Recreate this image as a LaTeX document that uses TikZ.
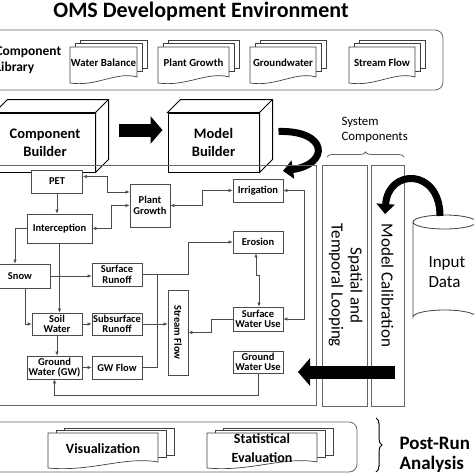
\documentclass[tikz,border=0pt]{standalone}
\usepackage{fontspec}
\setmainfont{Carlito}
\usetikzlibrary{arrows.meta,calc,decorations.pathreplacing}

\tikzset{
  >={Latex[length=4pt,width=3.5pt]},
  frame/.style={draw=black!60, line width=0.8pt},
  box/.style={draw=black!70, fill=white, line width=0.8pt, align=center, inner sep=0pt,
    font=\fontsize{10.5}{10.5}\selectfont\bfseries},
  link/.style={draw=black!70, line width=0.6pt},
  doc/.style={draw=black!75, fill=white, line width=0.7pt},
  doctext/.style={font=\fontsize{10.8}{12}\selectfont\bfseries, align=center},
  block/.style={draw=black, fill=white, line width=1pt, align=center,
    font=\fontsize{14.5}{18}\selectfont\bfseries},
  blockarrow/.style={draw=black, line width=13pt, -{Triangle[width=27pt,length=12pt]}},
  bendarrow/.style={draw=black, line width=7pt, -{Triangle[width=18pt,length=10pt]}},
  column/.style={draw=black!60, line width=0.8pt, align=center,
    font=\fontsize{17}{19}\selectfont},
}

% stacked documents: name, x1, y1, x2, y2, dx, dy, text
\newcommand{\docstack}[8]{%
  \foreach \k in {2,1}{
    \draw[doc] ({#2+#6*\k},{#3-#7*\k}) rectangle ({#4+#6*\k},{#5-#7*\k-8});
  }
  \draw[doc] (#2,#3) -- (#4,#3) -- (#4,{#5-6})
    .. controls ({#4-0.3*(#4-#2)},{#5-12}) and ({#2+0.4*(#4-#2)},{#5+4}) .. (#2,#5) -- cycle;
  \node[doctext] (#1) at ({(#2+#4)/2},{(#3+#5)/2-2}) {#8};
}

% top and side faces of a block node
\newcommand{\cubeside}[1]{%
  \draw[draw=black, line width=1pt, fill=white] (#1.north west) -- ++(13,-13) -- ($(#1.north east)+(13,-13)$)
    -- ($(#1.south east)+(13,-13)$) -- (#1.south east) -- (#1.north east) -- cycle;
  \draw[draw=black, line width=1pt] (#1.north east) -- ++(13,-13);
}

\begin{document}
\begin{tikzpicture}[x=1pt,y=-1pt]
\useasboundingbox (0,0) rectangle (474,474);
\clip (0,0) rectangle (474,474);

\node[font=\fontsize{22}{24}\selectfont\bfseries] (title) at (201,12) {OMS Development Environment};

% component library
\draw[frame, rounded corners=8pt] (-10,30) rectangle (443,90);
\node[anchor=west, align=left, font=\fontsize{13.5}{16}\selectfont\bfseries] (lib) at (-8,60) {Component\\Library};
\docstack{wbal}{70}{47}{137}{83}{5}{3.5}{Water Balance}
\docstack{pgro}{158}{47}{229}{83}{5}{3.5}{Plant Growth}
\docstack{gwat}{250}{47}{316}{83}{5}{3.5}{Groundwater}
\docstack{sflo}{349}{47}{415}{83}{5}{3.5}{Stream Flow}

% builders
\node[block, minimum width=100pt, minimum height=59pt] (cb) at (45,142.5) {Component\\Builder};
\cubeside{cb}
\node[block, minimum width=91pt, minimum height=59pt] (mb) at (213.5,142.5) {Model\\Builder};
\cubeside{mb}
\draw[blockarrow] ($(cb.east)+(23,-12.5)$) -- ($(mb.west)+(-5,-12.5)$);
\draw[bendarrow] ($(mb.east)+(19,-11)$) .. controls (328,130) and (330,164) .. (283,171);

% model frame
\draw[frame] (-10,165) rectangle (316,405);

\node[box, minimum width=51pt, minimum height=23pt] (pet) at (57,181.5) {PET};
\node[box, minimum width=40pt, minimum height=43pt] (pg) at (150,205.5) {Plant\\Growth};
\node[box, minimum width=50pt, minimum height=23pt] (irr) at (258,190.5) {Irrigation};
\node[box, minimum width=65pt, minimum height=29pt] (int) at (59.5,228.5) {Interception};
\node[box, minimum width=50pt, minimum height=22pt] (ero) at (258,242) {Erosion};
\node[box, minimum width=60pt, minimum height=24pt] (snow) at (20,276) {Snow};
\node[box, minimum width=50pt, minimum height=23pt] (sr) at (117,274.5) {Surface\\Runoff};
\node[box, minimum width=20pt, minimum height=85pt] (sf) at (178,332.5) {\rotatebox{-90}{Stream Flow}};
\node[box, minimum width=50pt, minimum height=22pt] (soil) at (57,324) {Soil\\Water};
\node[box, minimum width=50pt, minimum height=22pt] (ssr) at (117,324) {Subsurface\\Runoff};
\node[box, minimum width=50pt, minimum height=24pt] (swu) at (258,319) {Surface\\Water Use};
\node[box, minimum width=55pt, minimum height=23pt] (gw) at (54.5,367.5) {Ground\\Water (GW)};
\node[box, minimum width=50pt, minimum height=23pt] (gwf) at (117,367.5) {GW Flow};
\node[box, minimum width=50pt, minimum height=22pt] (gwu) at (258,362) {Ground\\Water Use};

\draw[link,<->] ($(pet.east)+(0,-5)$) -- ++(24,0) |- ($(pg.west)+(0,-13.5)$);
\draw[link,<->] (int.east) -- ++(19,0) |- (pg.west);
\draw[link,<->] (pg.east) -- ++(32,0) |- (irr.west);
\draw[link,->] (pet.south) -- (pet.south |- int.north);
\draw[link,->] (int.west) -| ([xshift=-5pt]snow.north);
\draw[link,->] (int.south) -- (int.south |- soil.north);
\draw[link,->] (snow.east) -- (snow.east -| sr.west);
\draw[link,->] ([xshift=5pt]snow.south) |- (soil.west);
\draw[link,->] (sr.east) -- ++(46,0) |- (ero.west);
\draw[link] (gwf.east) -| ($(sr.east)+(15,0)$);
\draw[link,->] (soil.east) -- (ssr.west);
\draw[link,->] (ssr.east) -- (ssr.east -| sf.west);
\draw[link,->] (soil.south) -- (soil.south |- gw.north);
\draw[link,->] (gw.east) -- (gw.east -| gwf.west);
\draw[link,->] (swu.west) -- ++(-21,0) |- (sf.east);
\draw[link,<->] ([xshift=-2pt]ero.south) -- ++(0,22) -| ([xshift=1pt]swu.north);
\draw[link,<->] (irr.east) -- ++(21,0) |- (swu.east);
\draw[link,->] (gwu.south) -- ++(0,22) -| (gw.south);

% system components
\node[column, minimum width=36pt, minimum height=241pt] (loop) at (345,285.5)
  {\rotatebox{-90}{\begin{tabular}{@{}c@{}}Spatial and\\Temporal Looping\end{tabular}}};
\node[column, minimum width=33pt, minimum height=241pt] (calib) at (387.5,285.5)
  {\rotatebox{-90}{Model Calibration}};
\draw[frame, decorate, decoration={brace, amplitude=5pt}] (327,157) -- (404,157);
\node[anchor=west, align=left, font=\fontsize{12.8}{15}\selectfont] (sys) at (338,130) {System\\Components};

% input data
\draw[draw=black!75, line width=0.8pt, fill=white] (413,222) -- (413,317)
  arc[start angle=180, end angle=360, x radius=31.5, y radius=7] -- (476,222);
\draw[draw=black!75, line width=0.8pt, fill=white] (444.5,222) ellipse [x radius=31.5, y radius=7];
\node[anchor=west, align=left, font=\fontsize{17}{20}\selectfont] (data) at (425,272) {Input\\Data};
\coordinate (cyltop) at (440,216);
\coordinate (caltip) at (385,214);
\draw[bendarrow] (cyltop) .. controls (440,168) and (388,168) .. (caltip);

\coordinate (calout) at (395,372);
\coordinate (modelin) at (298,372);
\draw[blockarrow] (calout) -- (modelin);

% post-run analysis
\draw[frame, rounded corners=8pt] (-10,422) rectangle (357,472);
\tikzset{doctext/.append style={font=\fontsize{14}{19}\selectfont\bfseries}}
\docstack{vis}{48}{433}{158}{468}{8}{2.5}{Visualization}
\docstack{stat}{207}{433}{317}{468}{8}{2.5}{Statistical\\Evaluation}
\draw[draw=black, line width=1pt, decorate, decoration={brace, amplitude=6pt}] (376,418) -- (376,472);
\node[anchor=west, align=left, font=\fontsize{19}{20}\selectfont\bfseries] (post) at (396,455) {Post-Run\\Analysis};
\end{tikzpicture}
\end{document}
